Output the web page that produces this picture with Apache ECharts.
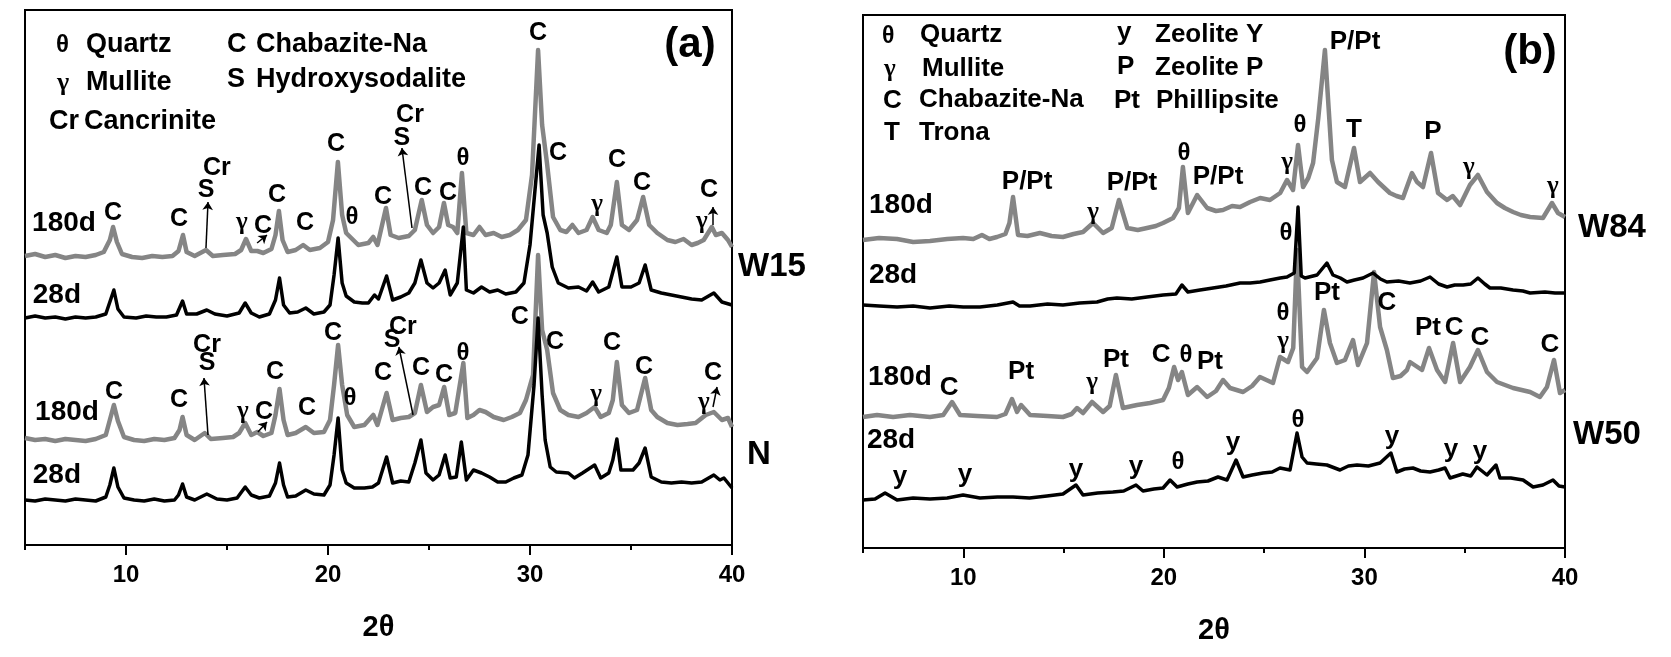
<!DOCTYPE html>
<html>
<head>
<meta charset="utf-8">
<script src="https://cdn.jsdelivr.net/npm/echarts@6/dist/echarts.min.js"></script>
<style>
  html, body { margin: 0; padding: 0; background: #fff; }
  #main { width: 1671px; height: 657px; }
</style>
</head>
<body>
<div id="main"></div>
<script>
// XRD patterns, [2theta, intensity (a.u., offset stacked)]
var w15d180 = [[5.0,289],[5.5,291],[6.0,288],[6.5,290],[7.0,287],[7.5,289],[8.0,288],[8.5,290],[8.9,293],[9.2,305],[9.36,318],[9.55,303],[9.8,291],[10.3,288],[10.8,287],[11.3,289],[11.8,288],[12.3,289],[12.6,294],[12.82,310],[13.0,293],[13.4,289],[13.96,295],[14.3,289],[14.8,290],[15.4,291],[15.7,295],[15.94,306],[16.2,294],[16.5,294],[16.8,292],[17.2,296],[17.4,310],[17.57,334],[17.75,305],[18.0,293],[18.4,295],[18.77,300],[19.1,295],[19.6,297],[20.0,303],[20.25,325],[20.49,383],[20.7,330],[20.9,312],[21.1,308],[21.5,300],[22.0,302],[22.24,308],[22.45,300],[22.87,337],[23.1,310],[23.5,307],[24.0,309],[24.3,315],[24.64,345],[24.9,320],[25.2,312],[25.5,318],[25.74,342],[25.95,320],[26.19,318],[26.4,312],[26.63,372],[26.85,312],[27.2,310],[27.5,318],[27.8,310],[28.2,312],[28.6,308],[29.0,310],[29.4,315],[29.8,325],[30.1,370],[30.4,495],[30.6,420],[30.84,382],[31.14,328],[31.5,315],[31.8,313],[32.1,320],[32.4,312],[32.8,315],[33.1,328],[33.4,315],[33.8,312],[34.0,320],[34.3,363],[34.55,320],[34.9,315],[35.3,325],[35.6,348],[35.9,320],[36.3,312],[36.8,305],[37.2,303],[37.6,306],[38.0,300],[38.3,302],[38.6,305],[39.0,318],[39.2,310],[39.5,312],[39.8,305],[40.0,298]];
var w15d28 = [[5.0,227],[5.5,229],[6.0,227],[6.5,228],[7.0,226],[7.5,228],[8.0,227],[8.5,228],[9.0,231],[9.4,255],[9.6,236],[9.9,228],[10.5,227],[11.0,229],[11.5,228],[12.0,228],[12.5,230],[12.8,244],[13.0,231],[13.5,231],[14.0,235],[14.4,231],[15.0,229],[15.6,232],[15.9,242],[16.2,232],[16.6,228],[17.1,231],[17.4,245],[17.6,267],[17.8,240],[18.1,232],[18.5,233],[18.9,237],[19.3,231],[19.8,233],[20.1,240],[20.3,270],[20.5,307],[20.7,262],[20.9,249],[21.3,243],[21.7,242],[22.0,242],[22.3,250],[22.5,246],[22.9,269],[23.2,245],[23.6,248],[24.0,252],[24.3,262],[24.6,285],[24.9,262],[25.2,257],[25.5,262],[25.8,275],[26.05,250],[26.4,262],[26.7,318],[26.85,255],[27.2,252],[27.6,258],[28.0,253],[28.4,255],[28.8,251],[29.3,253],[29.7,262],[30.0,300],[30.45,400],[30.65,330],[30.85,312],[31.1,278],[31.4,262],[31.9,257],[32.4,258],[32.8,254],[33.1,263],[33.4,253],[33.9,258],[34.3,288],[34.55,258],[35.0,258],[35.4,262],[35.7,280],[36.0,255],[36.5,252],[37.0,250],[37.5,248],[38.0,246],[38.5,245],[39.1,252],[39.5,243],[40.0,240]];
var n180 = [[5.0,107],[5.5,105],[6.0,106],[6.5,104],[7.0,106],[7.5,105],[8.0,104],[8.5,106],[9.0,110],[9.2,125],[9.4,140],[9.6,124],[9.9,108],[10.4,105],[10.9,104],[11.4,106],[11.9,105],[12.4,107],[12.65,115],[12.8,128],[13.0,110],[13.4,105],[13.9,112],[14.2,106],[14.8,107],[15.3,108],[15.6,112],[15.9,122],[16.2,110],[16.5,113],[16.8,109],[17.2,112],[17.4,130],[17.6,156],[17.8,125],[18.0,110],[18.4,112],[18.9,118],[19.3,112],[19.8,113],[20.1,125],[20.3,160],[20.5,200],[20.7,160],[20.95,130],[21.3,118],[21.8,120],[22.24,130],[22.45,120],[22.9,152],[23.2,125],[23.6,127],[24.0,128],[24.3,132],[24.6,160],[24.9,133],[25.2,138],[25.5,140],[25.75,158],[26.0,130],[26.3,132],[26.7,182],[26.9,127],[27.2,130],[27.5,135],[27.8,133],[28.2,128],[28.7,125],[29.1,128],[29.5,132],[29.8,145],[30.15,170],[30.4,290],[30.6,215],[30.85,195],[31.14,152],[31.5,135],[31.9,130],[32.4,128],[32.8,132],[33.2,138],[33.5,128],[33.9,132],[34.1,145],[34.3,183],[34.55,140],[34.9,132],[35.3,135],[35.7,167],[36.0,135],[36.3,128],[36.8,122],[37.3,120],[37.8,121],[38.2,122],[38.7,130],[39.1,133],[39.5,125],[39.8,127],[40.0,118]];
var n28 = [[5.0,45],[5.5,44],[6.0,46],[6.5,45],[7.0,44],[7.5,46],[8.0,45],[8.5,44],[9.0,48],[9.2,60],[9.4,77],[9.6,58],[9.9,47],[10.4,45],[10.9,44],[11.4,46],[11.9,44],[12.4,45],[12.6,50],[12.8,61],[13.0,48],[13.4,45],[14.0,51],[14.5,46],[15.0,45],[15.5,47],[15.9,58],[16.2,50],[16.6,47],[17.1,49],[17.4,62],[17.6,82],[17.8,60],[18.0,48],[18.4,49],[18.9,55],[19.3,51],[19.8,50],[20.1,60],[20.3,90],[20.5,127],[20.7,75],[20.9,62],[21.3,57],[21.8,57],[22.2,58],[22.5,62],[22.9,88],[23.2,62],[23.6,64],[24.0,63],[24.3,82],[24.6,105],[24.85,72],[25.2,65],[25.5,70],[25.8,90],[26.05,67],[26.35,68],[26.6,103],[26.85,65],[27.2,75],[27.6,72],[28.0,68],[28.4,63],[28.8,63],[29.2,67],[29.6,70],[29.9,90],[30.2,160],[30.4,227],[30.6,150],[30.75,105],[31.0,78],[31.3,73],[31.9,72],[32.2,67],[32.6,72],[33.2,80],[33.5,67],[33.9,72],[34.1,85],[34.3,106],[34.5,75],[35.1,75],[35.4,82],[35.7,97],[36.0,68],[36.5,63],[37.0,62],[37.5,63],[38.0,62],[38.5,63],[39.1,70],[39.4,65],[39.6,67],[40.0,57]];

var w84d180 = [[5.0,308],[5.8,310],[6.7,309],[7.5,306],[8.34,307],[9.2,309],[9.99,310],[10.5,309],[10.93,313],[11.3,309],[11.68,311],[12.1,314],[12.3,325],[12.48,351],[12.73,313],[13.2,312],[13.82,315],[14.4,312],[14.97,311],[15.5,314],[15.97,316],[16.47,325],[16.97,315],[17.4,320],[17.76,348],[18.18,320],[18.7,318],[19.16,320],[19.6,322],[19.96,325],[20.46,330],[20.75,340],[20.95,381],[21.2,335],[21.66,353],[22.16,340],[22.6,337],[22.95,338],[23.4,342],[23.8,341],[24.3,346],[24.8,350],[25.29,348],[25.8,355],[26.14,368],[26.44,358],[26.69,403],[26.94,361],[27.2,370],[27.44,385],[27.7,430],[28.03,498],[28.38,388],[28.63,366],[29.03,361],[29.48,400],[29.78,366],[30.28,375],[30.68,366],[31.27,355],[31.6,352],[31.92,350],[32.37,375],[32.62,366],[32.92,361],[33.32,395],[33.67,355],[34.12,348],[34.4,352],[34.77,343],[35.26,363],[35.66,373],[36.11,356],[36.61,345],[37.0,340],[37.41,336],[37.8,333],[38.26,331],[38.9,330],[39.35,345],[39.65,335],[40.0,331]];
var w84d28 = [[5.0,243],[5.8,242],[6.7,241],[7.5,242],[8.34,240],[9.3,242],[10.0,241],[10.83,241],[11.7,243],[12.48,246],[12.8,242],[13.33,242],[14.2,244],[14.97,243],[15.8,245],[16.67,246],[17.2,249],[17.66,250],[18.4,249],[19.16,251],[19.96,253],[20.6,254],[20.9,263],[21.2,256],[21.8,258],[22.45,260],[23.1,262],[23.8,265],[24.3,265],[24.8,266],[25.29,268],[25.8,270],[26.14,271],[26.5,275],[26.69,341],[26.85,272],[27.04,270],[27.64,273],[28.13,285],[28.43,273],[28.8,270],[29.13,266],[29.5,268],[29.93,270],[30.43,275],[30.8,269],[31.12,266],[31.7,267],[32.27,265],[32.8,267],[33.27,271],[33.7,264],[34.12,261],[34.5,263],[34.92,263],[35.3,264],[35.66,270],[36.0,264],[36.26,260],[36.8,260],[37.41,258],[37.9,257],[38.26,255],[39.0,256],[39.5,255],[40.0,255]];
var w50d180 = [[5.0,131],[5.7,133],[6.5,131],[7.34,133],[8.34,131],[9.0,133],[9.44,146],[9.84,133],[10.7,132],[11.68,131],[12.1,134],[12.43,149],[12.68,136],[12.88,143],[13.33,133],[14.2,132],[14.97,131],[15.4,134],[15.67,140],[15.97,135],[16.42,146],[16.97,136],[17.3,142],[17.61,173],[17.96,140],[18.66,143],[19.31,145],[19.96,148],[20.25,160],[20.51,181],[20.71,168],[20.9,176],[21.2,153],[21.66,161],[22.16,151],[22.6,157],[22.95,168],[23.3,160],[23.95,156],[24.4,162],[24.79,171],[25.44,165],[25.79,191],[26.19,186],[26.45,200],[26.64,298],[26.89,181],[27.14,176],[27.64,190],[27.98,238],[28.28,205],[28.63,185],[29.03,188],[29.43,208],[29.68,183],[30.13,205],[30.48,276],[30.78,221],[31.12,198],[31.42,170],[31.8,172],[32.12,178],[32.27,186],[32.87,178],[33.22,200],[33.62,178],[34.02,166],[34.42,205],[34.77,166],[35.26,181],[35.66,198],[36.11,176],[36.61,166],[37.41,160],[38.26,156],[38.75,151],[39.1,161],[39.45,188],[39.75,155],[40.0,158]];
var w50d28 = [[5.0,48],[5.6,49],[6.1,55],[6.7,48],[7.5,50],[8.34,49],[9.2,50],[9.99,53],[10.83,50],[11.7,51],[12.48,51],[13.3,50],[14.17,52],[14.97,54],[15.62,63],[15.97,53],[16.7,55],[17.46,56],[18.0,57],[18.61,63],[18.96,57],[19.5,59],[19.96,60],[20.31,68],[20.66,61],[21.2,64],[21.66,66],[22.2,67],[22.7,71],[23.15,68],[23.6,88],[23.95,71],[24.4,73],[24.94,75],[25.4,76],[25.79,80],[26.29,78],[26.64,115],[26.89,91],[27.14,85],[27.6,84],[28.13,83],[28.78,78],[29.2,82],[29.63,83],[30.2,82],[30.78,85],[31.32,95],[31.62,76],[32.0,79],[32.42,80],[32.8,77],[33.27,76],[33.7,78],[34.02,80],[34.27,70],[34.9,74],[35.3,72],[35.61,81],[36.11,73],[36.56,83],[36.76,70],[37.3,70],[37.91,68],[38.41,61],[38.9,63],[39.4,68],[39.7,62],[40.0,61]];

var ticksMajor = [10, 20, 30, 40];
var ticksMinor = [5, 15, 25, 35];

// peak labels: [2theta, intensity, text]
var annotA = [
  [6.93,322,'180d'],[6.58,250,'28d'],
  [9.36,332,'C'],[12.62,326,'C'],[14.5,377,'Cr'],[13.96,355,'S'],[15.74,322,'γ'],[16.78,319,'C'],
  [17.48,350,'C'],[18.86,322,'C'],[20.4,401,'C'],[21.19,328,'θ'],[22.72,348,'C'],[23.66,407,'S'],
  [24.06,430,'Cr'],[24.7,357,'C'],[25.94,352,'C'],[26.68,387,'θ'],[30.4,512,'C'],[31.39,392,'C'],
  [33.32,340,'γ'],[34.31,385,'C'],[35.54,362,'C'],[38.86,355,'C'],[38.51,323,'γ'],
  [7.08,133,'180d'],[6.58,70,'28d'],
  [9.41,153,'C'],[12.62,145,'C'],[14.01,200,'Cr'],[14.01,182,'S'],[15.79,133,'γ'],[16.83,133,'C'],
  [17.38,173,'C'],[18.96,137,'C'],[20.25,212,'C'],[21.09,147,'θ'],[22.72,172,'C'],[23.17,205,'S'],
  [23.71,218,'Cr'],[24.6,177,'C'],[25.74,170,'C'],[26.68,192,'θ'],[29.5,228,'C'],[31.24,203,'C'],
  [33.27,150,'γ'],[34.06,202,'C'],[35.64,178,'C'],[39.06,172,'C'],[38.61,142,'γ']
];
var arrowsA = [
  [13.96,297,14.06,343],[16.49,302,16.98,310],[24.16,317,23.66,397],[39.06,320,39.06,338],
  [14.06,110,13.86,167],[16.53,113,16.98,123],[24.21,130,23.51,198],[39.06,138,39.26,158]
];
var annotB = [
  [6.89,343,'180d'],[6.5,273,'28d'],
  [13.18,366,'P/Pt'],[16.47,335,'γ'],[18.41,365,'P/Pt'],[21.0,395,'θ'],[22.7,371,'P/Pt'],
  [26.14,385,'γ'],[26.79,423,'θ'],[29.53,506,'P/Pt'],[29.48,418,'T'],[33.42,416,'P'],
  [35.21,380,'γ'],[39.4,361,'γ'],[26.09,315,'θ'],
  [6.84,171,'180d'],[6.4,108,'28d'],
  [9.29,160,'C'],[12.88,176,'Pt'],[16.42,165,'γ'],[17.61,188,'Pt'],[19.86,193,'C'],[21.1,193,'θ'],
  [22.3,186,'Pt'],[25.94,235,'θ'],[25.94,206,'γ'],[28.13,255,'Pt'],[31.12,245,'C'],[33.17,220,'Pt'],
  [34.47,220,'C'],[35.76,210,'C'],[39.25,203,'C'],
  [6.84,71,'y'],[10.09,73,'y'],[15.62,78,'y'],[18.61,81,'y'],[20.7,86,'θ'],[23.45,105,'y'],
  [26.69,128,'θ'],[31.37,111,'y'],[34.32,98,'y'],[35.76,96,'y']
];

var SANS = '"Liberation Sans", Arial, sans-serif';
var SERIF = '"Liberation Serif", "Times New Roman", serif';
var GRAY = '#858585';

function labelItems(list, size) {
  return list.map(function (a) {
    var fs = size, ff = SANS;
    if (a[2] === 'γ') { fs = 25; ff = SERIF; }
    else if (a[2] === 'θ') { fs = 24; }
    else if (a[2] === '180d' || a[2] === '28d') { fs = 28; }
    return {
      value: [a[0], a[1]],
      name: a[2],
      label: { fontSize: fs, fontFamily: ff, color: '#000', fontWeight: 'bold' }
    };
  });
}

function arrowItems(list) {
  return list.map(function (a) {
    return [{ coord: [a[0], a[1]] }, { coord: [a[2], a[3]] }];
  });
}

function xAxes(gridIndex) {
  return [{
    gridIndex: gridIndex, type: 'value', min: 5, max: 40,
    name: '2θ', nameLocation: 'middle', nameGap: 68,
    nameTextStyle: { fontSize: 29, fontWeight: 'bold', color: '#000', fontFamily: SANS },
    axisLine: { lineStyle: { color: '#000', width: 2 } },
    axisTick: { customValues: ticksMajor, length: 10, lineStyle: { width: 2, color: '#000' } },
    axisLabel: { customValues: ticksMajor, margin: 18, fontSize: 24, fontWeight: 'bold', color: '#000', fontFamily: SANS },
    splitLine: { show: false }
  }, {
    gridIndex: gridIndex, type: 'value', min: 5, max: 40, position: 'bottom',
    axisLine: { show: false },
    axisTick: { customValues: ticksMinor, length: 5, lineStyle: { width: 2, color: '#000' } },
    axisLabel: { show: false },
    splitLine: { show: false }
  }];
}

function trace(data, xi, yi, color, w) {
  return {
    type: 'line', data: data, xAxisIndex: xi, yAxisIndex: yi,
    showSymbol: false, symbol: 'none', silent: true,
    lineStyle: { color: color, width: w, join: 'round' }
  };
}

function peakLabels(list, xi, yi, size, arrows) {
  var s = {
    type: 'scatter', xAxisIndex: xi, yAxisIndex: yi, symbol: 'circle', symbolSize: 0, silent: true, z: 5,
    itemStyle: { color: '#000', opacity: 1 },
    label: { show: true, position: 'inside', formatter: '{b}', color: '#000', opacity: 1, fontWeight: 'bold', fontSize: size, fontFamily: SANS },
    data: labelItems(list, size)
  };
  if (arrows) {
    s.markLine = {
      silent: true, symbol: ['none', 'arrow'], symbolSize: 8,
      lineStyle: { color: '#000', width: 1.5, type: 'solid', opacity: 1 },
      label: { show: false },
      data: arrowItems(arrows)
    };
  }
  return s;
}

function txt(x, y, s, size, opts) {
  opts = opts || {};
  return {
    type: 'text', x: x, y: y, z: 10,
    style: {
      text: s, fill: '#000',
      font: 'bold ' + size + 'px ' + (opts.serif ? SERIF : SANS),
      textAlign: opts.align || 'left', textVerticalAlign: 'middle'
    }
  };
}

var chart = echarts.init(document.getElementById('main'));

var option = {
  animation: false,
  backgroundColor: '#fff',
  grid: [
    { left: 25, top: 10, width: 707, height: 535, show: true, borderColor: '#000', borderWidth: 2 },
    { left: 863, top: 15, width: 702, height: 533, show: true, borderColor: '#000', borderWidth: 2 }
  ],
  xAxis: xAxes(0).concat(xAxes(1)),
  yAxis: [
    { gridIndex: 0, type: 'value', min: 0, max: 535, show: false },
    { gridIndex: 1, type: 'value', min: 0, max: 533, show: false }
  ],
  series: [
    trace(w15d180, 0, 0, GRAY, 4.5),
    trace(n180, 0, 0, GRAY, 4.5),
    trace(w15d28, 0, 0, '#000', 3.5),
    trace(n28, 0, 0, '#000', 3.5),
    trace(w84d180, 2, 1, GRAY, 4.5),
    trace(w50d180, 2, 1, GRAY, 4.5),
    trace(w84d28, 2, 1, '#000', 3.5),
    trace(w50d28, 2, 1, '#000', 3.5),
    peakLabels(annotA, 0, 0, 25, arrowsA),
    peakLabels(annotB, 2, 1, 26)
  ],
  graphic: [
    // legend (a)
    txt(56, 45, 'θ', 24), txt(86, 45, 'Quartz', 27),
    txt(57, 83, 'γ', 26, { serif: true }), txt(86, 83, 'Mullite', 27),
    txt(49, 122, 'Cr', 27), txt(84, 122, 'Cancrinite', 27),
    txt(227, 45, 'C', 27), txt(256, 45, 'Chabazite-Na', 27),
    txt(227, 80, 'S', 27), txt(256, 80, 'Hydroxysodalite', 27),
    txt(690, 45, '(a)', 42, { align: 'center' }),
    txt(738, 267, 'W15', 33), txt(747, 455, 'N', 33),
    // legend (b)
    txt(882, 37, 'θ', 23), txt(920, 35, 'Quartz', 26),
    txt(884, 70, 'γ', 25, { serif: true }), txt(922, 69, 'Mullite', 26),
    txt(883, 101, 'C', 26), txt(919, 100, 'Chabazite-Na', 26),
    txt(884, 133, 'T', 26), txt(919, 133, 'Trona', 26),
    txt(1117, 33, 'y', 26), txt(1155, 35, 'Zeolite Y', 26),
    txt(1117, 67, 'P', 26), txt(1155, 68, 'Zeolite P', 26),
    txt(1114, 101, 'Pt', 26), txt(1156, 101, 'Phillipsite', 26),
    txt(1530, 52, '(b)', 42, { align: 'center' }),
    txt(1578, 228, 'W84', 33), txt(1573, 435, 'W50', 33)
  ]
};

chart.setOption(option);
</script>
</body>
</html>
